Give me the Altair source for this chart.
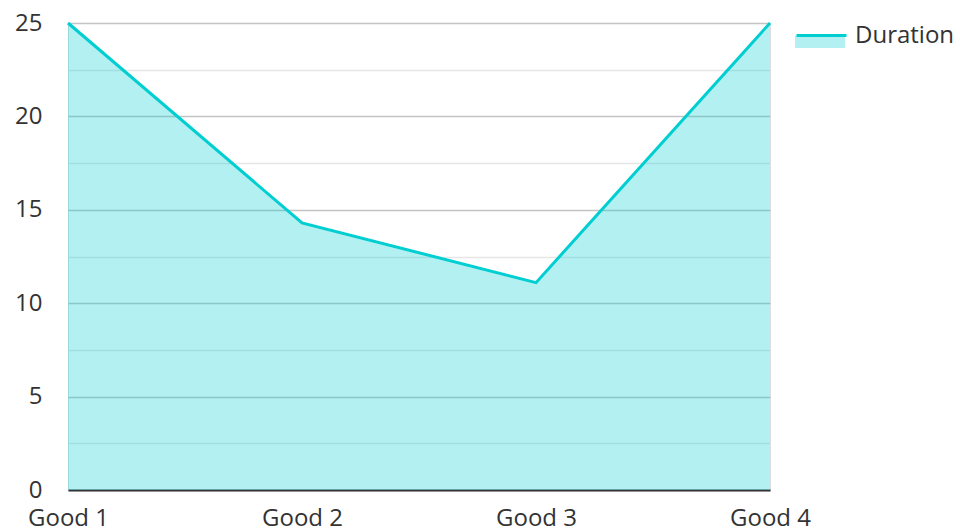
import altair as alt
import pandas as pd

categories = ["Good 1", "Good 2", "Good 3", "Good 4"]
durations = [25, 14.3, 11.1, 25]
series_name = "Duration"
y_ticks = [0, 2.5, 5, 7.5, 10, 12.5, 15, 17.5, 20, 22.5, 25]

df = pd.DataFrame({
    "good": categories,
    "value": durations,
    "series": [series_name] * len(categories),
    "series_fill": [series_name] * len(categories),
})

FONT = "Open Sans"
TEAL = "#00CED1"
FS = 24

x_enc = alt.X(
    "good:N",
    sort=categories,
    scale=alt.Scale(type="point", padding=0),
    axis=alt.Axis(
        title=None, labelAngle=0, ticks=False, grid=False,
        domainColor="#333333", domainWidth=2,
        labelFontSize=FS, labelColor="#333333", labelFont=FONT,
        labelPadding=16,
    ),
)
y_enc = alt.Y(
    "value:Q",
    scale=alt.Scale(domain=[0, 25], nice=False),
    axis=alt.Axis(
        title=None, values=y_ticks, ticks=False, domain=False,
        labelExpr="datum.value % 5 === 0 ? datum.label : ''",
        gridColor={"condition": {"test": "datum.value % 5 === 0", "value": "#c4c4c4"}, "value": "#e6e6e6"},
        gridWidth=1.5,
        labelFontSize=FS, labelColor="#333333", labelFont=FONT,
        labelPadding=26,
    ),
)

area = alt.Chart(df).mark_area(fillOpacity=0.3, interpolate="linear").encode(
    x=x_enc, y=y_enc,
    fill=alt.Fill(
        "series_fill:N",
        scale=alt.Scale(domain=[series_name], range=[TEAL]),
        legend=alt.Legend(
            title=None, orient="none", legendX=727, legendY=-14,
            symbolType="M-1,0.06H1V0.56H-1Z", symbolSize=2500,
            symbolOpacity=0.3, symbolStrokeWidth=0,
            labelFontSize=FS, labelFont=FONT, labelExpr="''",
        ),
    ),
)

line = alt.Chart(df).mark_line(strokeWidth=3, interpolate="linear").encode(
    x=x_enc, y=y_enc,
    stroke=alt.Stroke(
        "series:N",
        scale=alt.Scale(domain=[series_name], range=[TEAL]),
        legend=alt.Legend(
            title=None, orient="none", legendX=727, legendY=-14,
            symbolType="stroke", symbolSize=2500, symbolStrokeWidth=3,
            labelFontSize=FS, labelFont=FONT, labelColor="#333333",
            labelOffset=7,
        ),
    ),
)

chart = alt.layer(area, line).resolve_scale(fill="independent", stroke="independent").properties(
    width=702, height=467,
    padding={"left": 68, "top": 23, "right": 190, "bottom": 41},
    autosize=alt.AutoSizeParams(type="none"),
).configure_view(stroke=None).configure(font=FONT)

chart.save("out.html", embed_options={"renderer": "svg", "actions": False})
